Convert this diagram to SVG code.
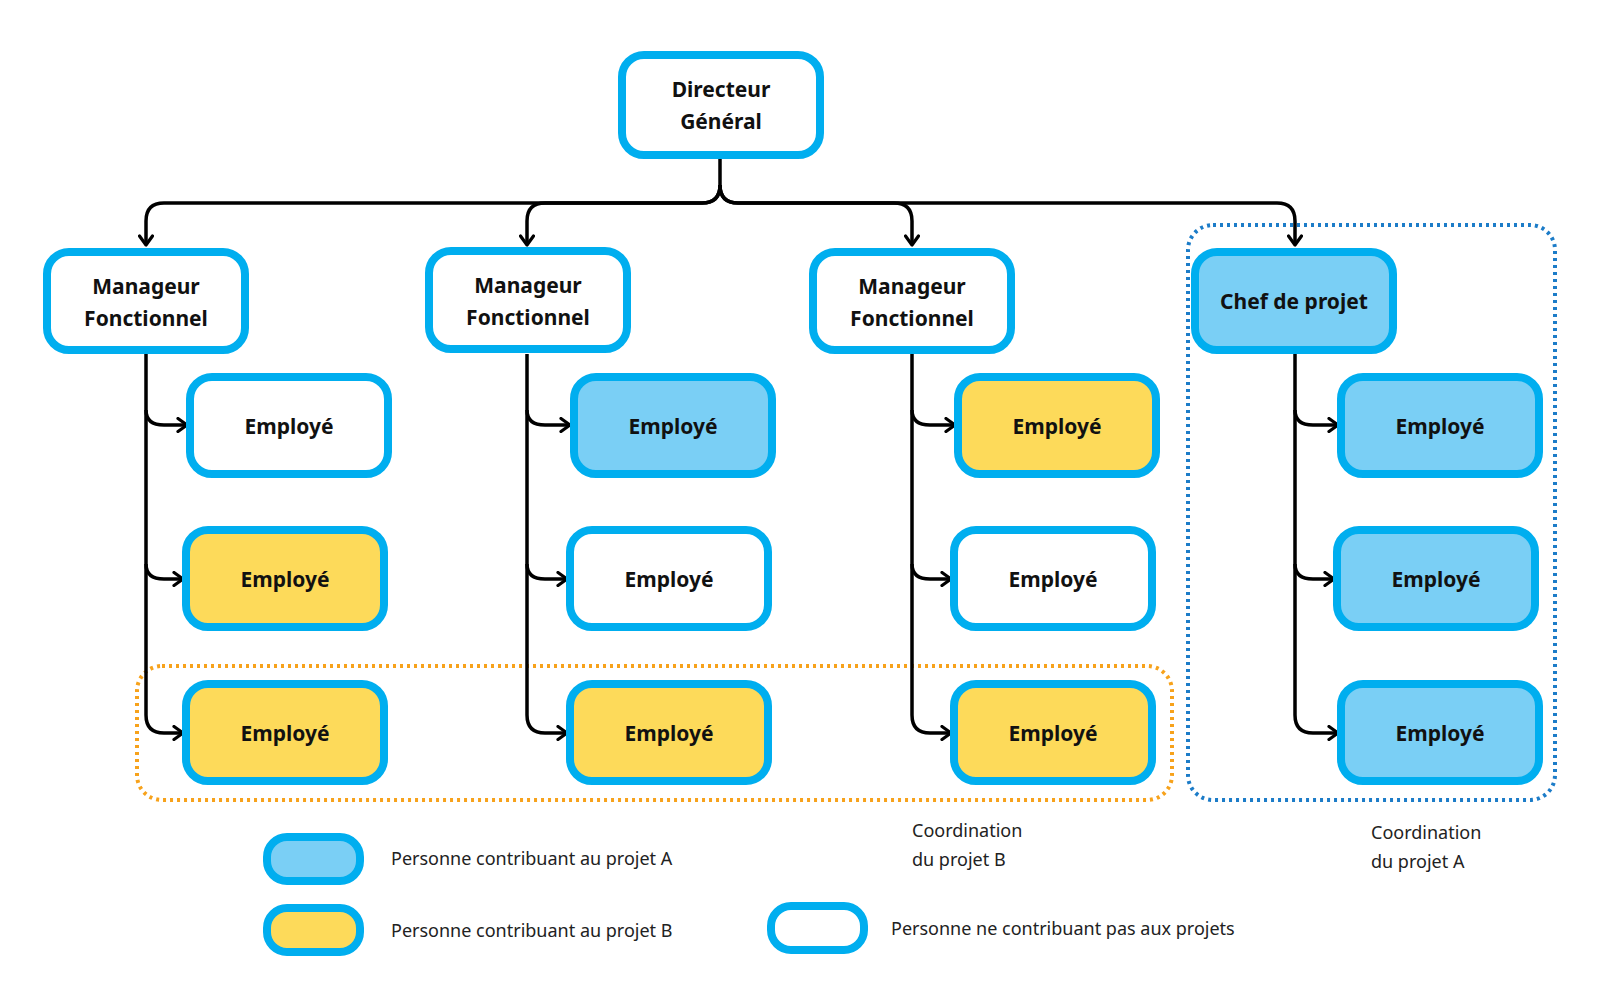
<svg xmlns="http://www.w3.org/2000/svg" width="1600" height="1000" viewBox="0 0 1600 1000">
<defs>
<style>
.n{stroke:#00AEEF;stroke-width:8}
.w{fill:#fff}.b{fill:#7ACFF5}.y{fill:#FDDA5A}
.t{font-family:"Noto Sans",sans-serif;font-weight:bold;font-size:21px;fill:#111;text-anchor:middle}
.l{font-family:"Noto Sans",sans-serif;font-size:18px;fill:#222}
.c{fill:none;stroke:#000;stroke-width:3.5}
</style>
<marker id="a" viewBox="0 0 16 16" refX="13" refY="8" markerWidth="16" markerHeight="16" markerUnits="userSpaceOnUse" orient="auto"><path d="M4 1.5 L13 8 L4 14.5" fill="none" stroke="#000" stroke-width="3.2" stroke-linecap="round" stroke-linejoin="round"/></marker>
</defs>
<rect width="1600" height="1000" fill="#fff"/>
<g id="groups">
<rect x="137" y="666" width="1035" height="134" rx="25" fill="none" stroke="#F7A21B" stroke-width="4" stroke-dasharray="3 4"/>
<rect x="1188" y="225" width="367" height="575" rx="25" fill="none" stroke="#1C7CC8" stroke-width="4" stroke-dasharray="3 4"/>
</g>
<g id="connectors">
<path class="c" d="M720 157 V185 Q720 203 702 203 H164 Q146 203 146 221 V245" marker-end="url(#a)"/>
<path class="c" d="M720 185 Q720 203 702 203 H545 Q527 203 527 221 V245" marker-end="url(#a)"/>
<path class="c" d="M720 185 Q720 203 738 203 H894 Q912 203 912 221 V245" marker-end="url(#a)"/>
<path class="c" d="M720 185 Q720 203 738 203 H1277 Q1295 203 1295 221 V245" marker-end="url(#a)"/>
<path class="c" d="M146 354 V715 Q146 733 164 733 H183" marker-end="url(#a)"/>
<path class="c" d="M146 410 Q146 425 164 425 H187" marker-end="url(#a)"/>
<path class="c" d="M146 564 Q146 579 164 579 H183" marker-end="url(#a)"/>
<path class="c" d="M527 354 V715 Q527 733 545 733 H567" marker-end="url(#a)"/>
<path class="c" d="M527 410 Q527 425 545 425 H570" marker-end="url(#a)"/>
<path class="c" d="M527 564 Q527 579 545 579 H567" marker-end="url(#a)"/>
<path class="c" d="M912 354 V715 Q912 733 930 733 H951" marker-end="url(#a)"/>
<path class="c" d="M912 410 Q912 425 930 425 H955" marker-end="url(#a)"/>
<path class="c" d="M912 564 Q912 579 930 579 H951" marker-end="url(#a)"/>
<path class="c" d="M1295 354 V715 Q1295 733 1313 733 H1338" marker-end="url(#a)"/>
<path class="c" d="M1295 410 Q1295 425 1313 425 H1338" marker-end="url(#a)"/>
<path class="c" d="M1295 564 Q1295 579 1313 579 H1334" marker-end="url(#a)"/>
</g>
<g id="dg"><rect class="n w" x="622" y="55" width="198" height="100" rx="22"/><text class="t" x="721" y="97">Directeur</text><text class="t" x="721" y="129">Général</text></g>
<g id="m1"><rect class="n w" x="47" y="252" width="198" height="98" rx="22"/><text class="t" x="146" y="294">Manageur</text><text class="t" x="146" y="326">Fonctionnel</text></g>
<g id="m2"><rect class="n w" x="429" y="251" width="198" height="98" rx="22"/><text class="t" x="528" y="293">Manageur</text><text class="t" x="528" y="325">Fonctionnel</text></g>
<g id="m3"><rect class="n w" x="813" y="252" width="198" height="98" rx="22"/><text class="t" x="912" y="294">Manageur</text><text class="t" x="912" y="326">Fonctionnel</text></g>
<g id="cp"><rect class="n b" x="1195" y="252" width="198" height="98" rx="22"/><text class="t" x="1294" y="309">Chef de projet</text></g>
<g id="e11"><rect class="n w" x="190" y="377" width="198" height="97" rx="22"/><text class="t" x="289" y="434">Employé</text></g>
<g id="e12"><rect class="n y" x="186" y="530" width="198" height="97" rx="22"/><text class="t" x="285" y="587">Employé</text></g>
<g id="e13"><rect class="n y" x="186" y="684" width="198" height="97" rx="22"/><text class="t" x="285" y="741">Employé</text></g>
<g id="e21"><rect class="n b" x="574" y="377" width="198" height="97" rx="22"/><text class="t" x="673" y="434">Employé</text></g>
<g id="e22"><rect class="n w" x="570" y="530" width="198" height="97" rx="22"/><text class="t" x="669" y="587">Employé</text></g>
<g id="e23"><rect class="n y" x="570" y="684" width="198" height="97" rx="22"/><text class="t" x="669" y="741">Employé</text></g>
<g id="e31"><rect class="n y" x="958" y="377" width="198" height="97" rx="22"/><text class="t" x="1057" y="434">Employé</text></g>
<g id="e32"><rect class="n w" x="954" y="530" width="198" height="97" rx="22"/><text class="t" x="1053" y="587">Employé</text></g>
<g id="e33"><rect class="n y" x="954" y="684" width="198" height="97" rx="22"/><text class="t" x="1053" y="741">Employé</text></g>
<g id="e41"><rect class="n b" x="1341" y="377" width="198" height="97" rx="22"/><text class="t" x="1440" y="434">Employé</text></g>
<g id="e42"><rect class="n b" x="1337" y="530" width="198" height="97" rx="22"/><text class="t" x="1436" y="587">Employé</text></g>
<g id="e43"><rect class="n b" x="1341" y="684" width="198" height="97" rx="22"/><text class="t" x="1440" y="741">Employé</text></g>
<g id="legend">
<rect class="n b" x="267" y="837" width="93" height="44" rx="20"/>
<rect class="n y" x="267" y="908" width="93" height="44" rx="20"/>
<rect class="n w" x="771" y="906" width="93" height="44" rx="20"/>
<text class="l" x="391" y="865">Personne contribuant au projet A</text>
<text class="l" x="391" y="937">Personne contribuant au projet B</text>
<text class="l" x="891" y="935">Personne ne contribuant pas aux projets</text>
<text class="l" x="912" y="837">Coordination</text>
<text class="l" x="912" y="866">du projet B</text>
<text class="l" x="1371" y="839">Coordination</text>
<text class="l" x="1371" y="868">du projet A</text>
</g>
</svg>
